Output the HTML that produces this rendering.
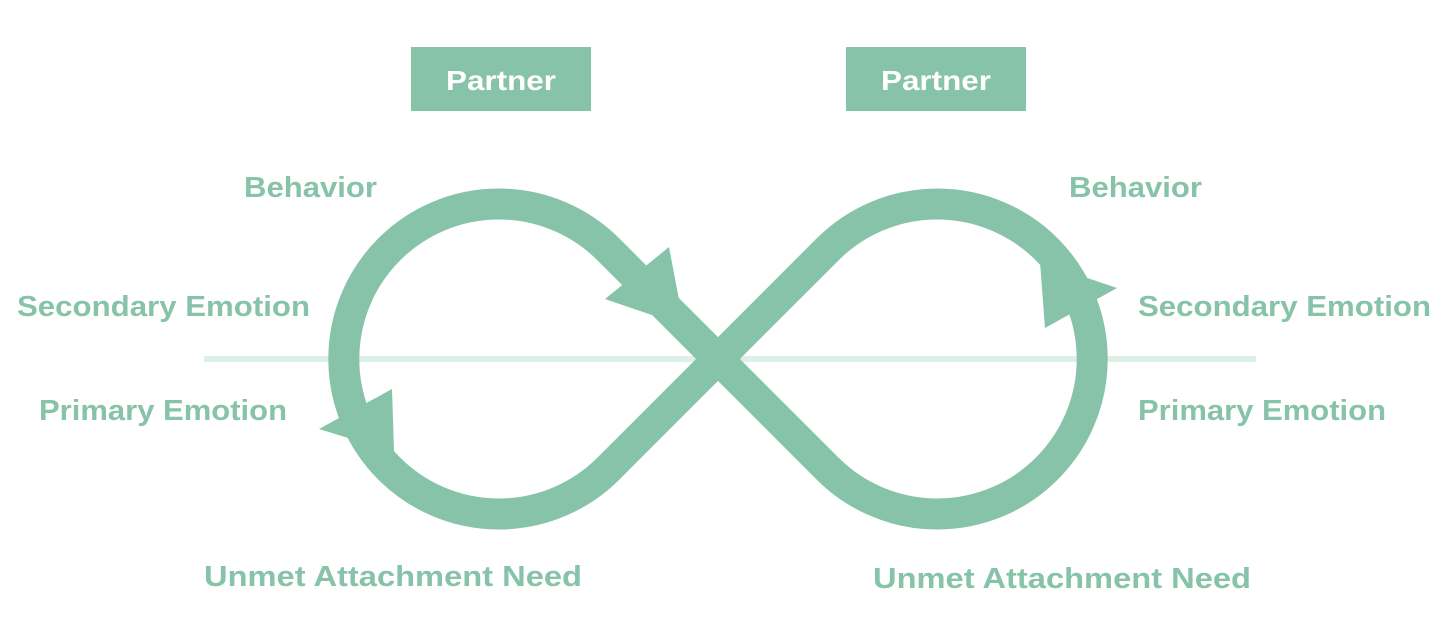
<!DOCTYPE html>
<html><head><meta charset="utf-8"><style>html,body{margin:0;padding:0;background:#fff}svg{display:block}</style></head><body>
<svg width="1454" height="642" viewBox="0 0 1454 642" xmlns="http://www.w3.org/2000/svg" font-family="Liberation Sans, sans-serif" font-weight="bold">
<rect x="204" y="356" width="1052" height="6" fill="#ddf0e8"/>
<path d="M608.5 249.5 L827.5 468.5 A155 155 0 1 0 827.5 249.5 L608.5 468.5 A155 155 0 1 1 608.5 249.5 Z" fill="none" stroke="#86c3a8" stroke-width="31" stroke-linejoin="miter"/>
<polygon points="669,247 605,299 684,326" fill="#86c3a8"/>
<polygon points="392,389 319,429 394,452" fill="#86c3a8"/>
<polygon points="1045,328 1117,288 1040,262" fill="#86c3a8"/>
<rect x="411" y="47" width="180" height="64" fill="#86c3a8"/>
<rect x="846" y="47" width="180" height="64" fill="#86c3a8"/>
<g fill="#fff" font-size="28">
<text x="446" y="90" textLength="110" lengthAdjust="spacingAndGlyphs">Partner</text>
<text x="881" y="90" textLength="110" lengthAdjust="spacingAndGlyphs">Partner</text>
</g>
<g fill="#86c3a8" font-size="29">
<text x="244" y="197" textLength="133" lengthAdjust="spacingAndGlyphs">Behavior</text>
<text x="17" y="316" textLength="293" lengthAdjust="spacingAndGlyphs">Secondary Emotion</text>
<text x="39" y="420" textLength="248" lengthAdjust="spacingAndGlyphs">Primary Emotion</text>
<text x="204" y="586" textLength="378" lengthAdjust="spacingAndGlyphs">Unmet Attachment Need</text>
<text x="1069" y="197" textLength="133" lengthAdjust="spacingAndGlyphs">Behavior</text>
<text x="1138" y="316" textLength="293" lengthAdjust="spacingAndGlyphs">Secondary Emotion</text>
<text x="1138" y="420" textLength="248" lengthAdjust="spacingAndGlyphs">Primary Emotion</text>
<text x="873" y="588" textLength="378" lengthAdjust="spacingAndGlyphs">Unmet Attachment Need</text>
</g>
</svg>
</body></html>
